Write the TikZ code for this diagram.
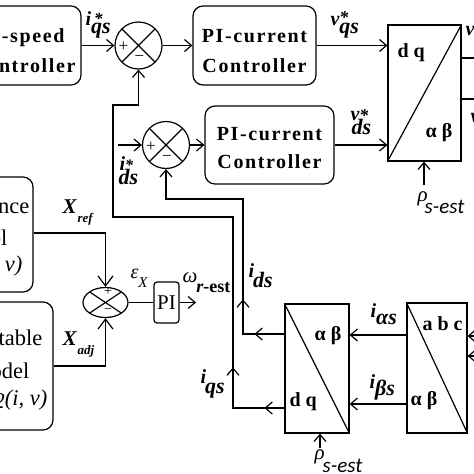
\documentclass[tikz,border=0pt]{standalone}
\usepackage{fontspec}
\setmainfont{Liberation Serif}
\newfontfamily\ctrlfont[LetterSpace=8]{Liberation Serif}
\newfontfamily\sansit{Carlito}
\usetikzlibrary{arrows.meta,shapes.geometric,decorations.markings}
\newcommand\subf{\fontsize{22}{22}\selectfont}
\begin{document}
\begin{tikzpicture}[x=1pt,y=-1pt,line width=1.2pt,
  tip/.tip={Straight Barb[length=7pt,width=12pt]},
  bigtip/.tip={Straight Barb[length=10pt,width=15pt]},
  arr/.style={-tip},
  ctrlbox/.style={draw,rounded corners=10pt,inner sep=0pt},
  trbox/.style={draw,inner sep=0pt},
  xcross/.style={path picture={\draw (path picture bounding box.north west) -- (path picture bounding box.south east) (path picture bounding box.north east) -- (path picture bounding box.south west);}},
  sumc/.style={circle,draw,minimum size=47pt,inner sep=0pt,xcross},
  sume/.style={ellipse,draw,minimum width=45pt,minimum height=30pt,inner sep=0pt,xcross},
  ctrltext/.style={font=\ctrlfont\bfseries\fontsize{20}{24}\selectfont,inner sep=0pt,anchor=base},
  modtext/.style={font=\fontsize{22.5}{24}\selectfont,inner sep=0pt,anchor=base east},
  trtext/.style={font=\bfseries\fontsize{20}{24}\selectfont,inner sep=0pt,anchor=base west},
  lbl/.style={font=\bfseries\itshape\fontsize{20}{22}\selectfont,inner sep=0pt,anchor=base west},
  pm/.style={font=\fontsize{17}{17}\selectfont,inner sep=0pt},
  pms/.style={font=\fontsize{14}{14}\selectfont,inner sep=0pt}
]
\useasboundingbox (0,0) rectangle (474,474);
\clip (0,0) rectangle (474,474);

% ---------- boxes ----------
\node[ctrlbox,minimum width=118pt,minimum height=79pt] (spd) at (22,45.5) {};
\node[ctrltext,anchor=base east] (spdt1) at (65,42) {PI-speed};
\node[ctrltext,anchor=base east] (spdt2) at (76,72) {Controller};

\node[ctrlbox,minimum width=123pt,minimum height=79pt] (pic1) at (254.5,45.5) {};
\node[ctrltext] (pic1t1) at (254.5,42) {PI-current};
\node[ctrltext] (pic1t2) at (254.5,72) {Controller};

\node[ctrlbox,minimum width=129pt,minimum height=78pt] (pic2) at (269.5,145) {};
\node[ctrltext] (pic2t1) at (269.5,140) {PI-current};
\node[ctrltext] (pic2t2) at (269.5,168) {Controller};

\node[sumc] (s1) at (138.5,45.5) {};
\node[pm] (s1p) at (123.5,46.5) {+};
\node[pm] (s1m) at (139.5,58.5) {−};
\node[sumc] (s2) at (166,145) {};
\node[pm] (s2p) at (151,147) {+};
\node[pm] (s2m) at (167,158) {−};

\node[trbox,minimum width=73pt,minimum height=136pt] (dq1) at (424.5,93) {};
\draw (dq1.south west) -- (dq1.north east);
\node[trtext] (dq1a) at (397,57) {d q};
\node[trtext] (dq1b) at (425,137) {α β};

\node[trbox,minimum width=64pt,minimum height=129pt] (ad) at (317,368.5) {};
\draw (ad.north west) -- (ad.south east);
\node[trtext] (ada) at (314,340) {α β};
\node[trtext] (adb) at (289,406) {d q};

\node[trbox,minimum width=60pt,minimum height=130pt] (abc) at (437,368) {};
\draw (abc.north west) -- (abc.south east);
\node[trtext] (abca) at (422,330) {a b c};
\node[trtext] (abcb) at (410,405) {α β};

\node[ctrlbox,minimum width=123pt,minimum height=115pt] (ref) at (-28.5,234.5) {};
\node[modtext] (reft1) at (30,213) {Reference};
\node[modtext] (reft2) at (8,245) {Model};
\node[modtext] (reft3) at (23,271) {\itshape f\raisebox{-3pt}{1}(i, v)};

\node[ctrlbox,minimum width=123pt,minimum height=128pt] (adj) at (-8.5,366) {};
\node[modtext] (adjt1) at (43,345) {Adjustable};
\node[modtext] (adjt2) at (30,378) {Model};
\node[modtext] (adjt3) at (48,405) {\itshape f\raisebox{-3pt}{2}(i, v)};

\node[sume] (se) at (105.5,302.5) {};
\node[pms] (sep) at (108,292) {+};
\node[pms] (sem) at (108,311) {−};
\node[draw,rounded corners=3pt,minimum width=25pt,minimum height=41pt,inner sep=0pt,font=\fontsize{21}{24}\selectfont] (pi) at (166.5,302.5) {PI};

% ---------- connectors ----------
\draw[arr] (spd.east) -- (s1.west);
\draw[arr] (s1.east) -- (pic1.west);
\draw[arr] (pic1.east) -- (pic1.east -| dq1.west);
\draw[arr] (s2.east) -- (pic2.west);
\draw[arr] (pic2.east) -- (pic2.east -| dq1.west);
\coordinate (ids0) at (118,145);
\draw[arr] (ids0) -- (s2.west);
\coordinate (rho1) at (424,185);
\draw[arr] (rho1) -- (rho1 |- dq1.south);
\coordinate (va) at (474,58);
\coordinate (vb) at (474,99);
\draw (va -| dq1.east) -- (va);
\draw (vb -| dq1.east) -- (vb);

% i_ds feedback
\coordinate (d1) at (243,334);
\coordinate (d2) at (243,199);
\coordinate (d3) at (166,199);
\draw[arr,postaction={decorate},decoration={markings,
   mark=at position 30pt with {\arrow{tip}},
   mark=at position 76pt with {\arrow{tip}}}]
  (ad.west |- d1) -- (d1) -- (d2) -- (d3) -- (s2.south);
% i_qs feedback
\coordinate (q1) at (233,408);
\coordinate (q2) at (233,217);
\coordinate (q3) at (113,217);
\coordinate (q4) at (113,105);
\coordinate (q5) at (138.5,105);
\draw[arr,postaction={decorate},decoration={markings,
   mark=at position 20pt with {\arrow{tip}},
   mark=at position 92pt with {\arrow{tip}}}]
  (ad.west |- q1) -- (q1) -- (q2) -- (q3) -- (q4) -- (q5) -- (s1.south);

\coordinate (ya) at (0,335);
\coordinate (yb) at (0,404);
\draw[arr] (abc.west |- ya) -- (ad.east |- ya);
\draw[arr] (abc.west |- yb) -- (ad.east |- yb);
\coordinate (ra) at (474,336);
\coordinate (rb) at (474,356);
\draw[arr] (ra) -- (ra -| abc.east);
\draw[arr] (rb) -- (rb -| abc.east);
\coordinate (rho2) at (320,448);
\draw[arr] (rho2) -- (rho2 |- ad.south);

\coordinate (xr) at (105.5,233);
\coordinate (xa) at (105.5,366);
\draw[-bigtip] (ref.east |- xr) -- (xr) -- (se.north);
\draw[-bigtip] (adj.east |- xa) -- (xa) -- (se.south);
\draw (se.east) -- (pi.west);
\coordinate (wout) at (196,302.5);
\draw[arr] (pi.east) -- (wout);

% ---------- labels ----------
\node[lbl] (liqs) at (85,25) {i\rlap{\kern3pt\raisebox{1pt}{\fontsize{17}{17}\selectfont *}}\raisebox{-8pt}{\subf qs}};
\node[lbl] (lvqs) at (330,25) {v\rlap{\raisebox{2pt}{\fontsize{18}{18}\selectfont *}}\raisebox{-8pt}{\subf qs}};
\node[lbl] (lvds) at (350,120) {\rlap{v\raisebox{-1pt}{\fontsize{18}{18}\selectfont *}}\kern1pt\raisebox{-14pt}{\subf ds}};
\node[lbl] (lids0) at (119,170) {\rlap{i\raisebox{0pt}{\fontsize{16}{16}\selectfont *}}\kern-1pt\raisebox{-14pt}{\subf ds}};
\node[lbl] (lids) at (248,277) {i\kern-1pt\raisebox{-10pt}{\subf ds}};
\node[lbl] (liqsf) at (200,383) {i\kern-1pt\raisebox{-10pt}{\subf qs}};
\node[lbl] (lias) at (370,317) {i\raisebox{-7pt}{\subf αs}};
\node[lbl] (libs) at (369,388) {i\raisebox{-7pt}{\subf βs}};
\node[lbl,font=\bfseries\itshape\fontsize{21}{22}\selectfont] (lxref) at (62,213) {X\kern1pt\raisebox{-9pt}{\fontsize{13}{13}\selectfont ref}};
\node[lbl,font=\bfseries\itshape\fontsize{21}{22}\selectfont] (lxadj) at (62,345) {X\kern1pt\raisebox{-9pt}{\fontsize{13}{13}\selectfont adj}};
\node[lbl,font=\itshape\fontsize{20}{22}\selectfont] (leps) at (130,278) {ε\raisebox{-9pt}{\fontsize{15}{15}\selectfont X}};
\node[lbl,font=\itshape\fontsize{21}{22}\selectfont] (lom) at (182,282) {ω\kern-1pt\raisebox{-10pt}{\fontsize{18}{18}\selectfont\bfseries r\upshape -est}};
\node[lbl,font=\itshape\fontsize{21}{22}\selectfont] (lrho1) at (417,201) {ρ\kern-3pt\raisebox{-12pt}{\sansit\itshape\fontsize{21}{21}\selectfont s-est}};
\node[lbl,font=\itshape\fontsize{21}{22}\selectfont] (lrho2) at (314,459) {ρ\kern-2pt\raisebox{-13pt}{\sansit\itshape\fontsize{21}{21}\selectfont s-est}};
\node[lbl] (lva) at (465,35) {v\raisebox{-8pt}{\subf αs}};
\node[lbl] (lvb) at (470,122) {v\raisebox{-8pt}{\subf βs}};
\end{tikzpicture}
\end{document}
